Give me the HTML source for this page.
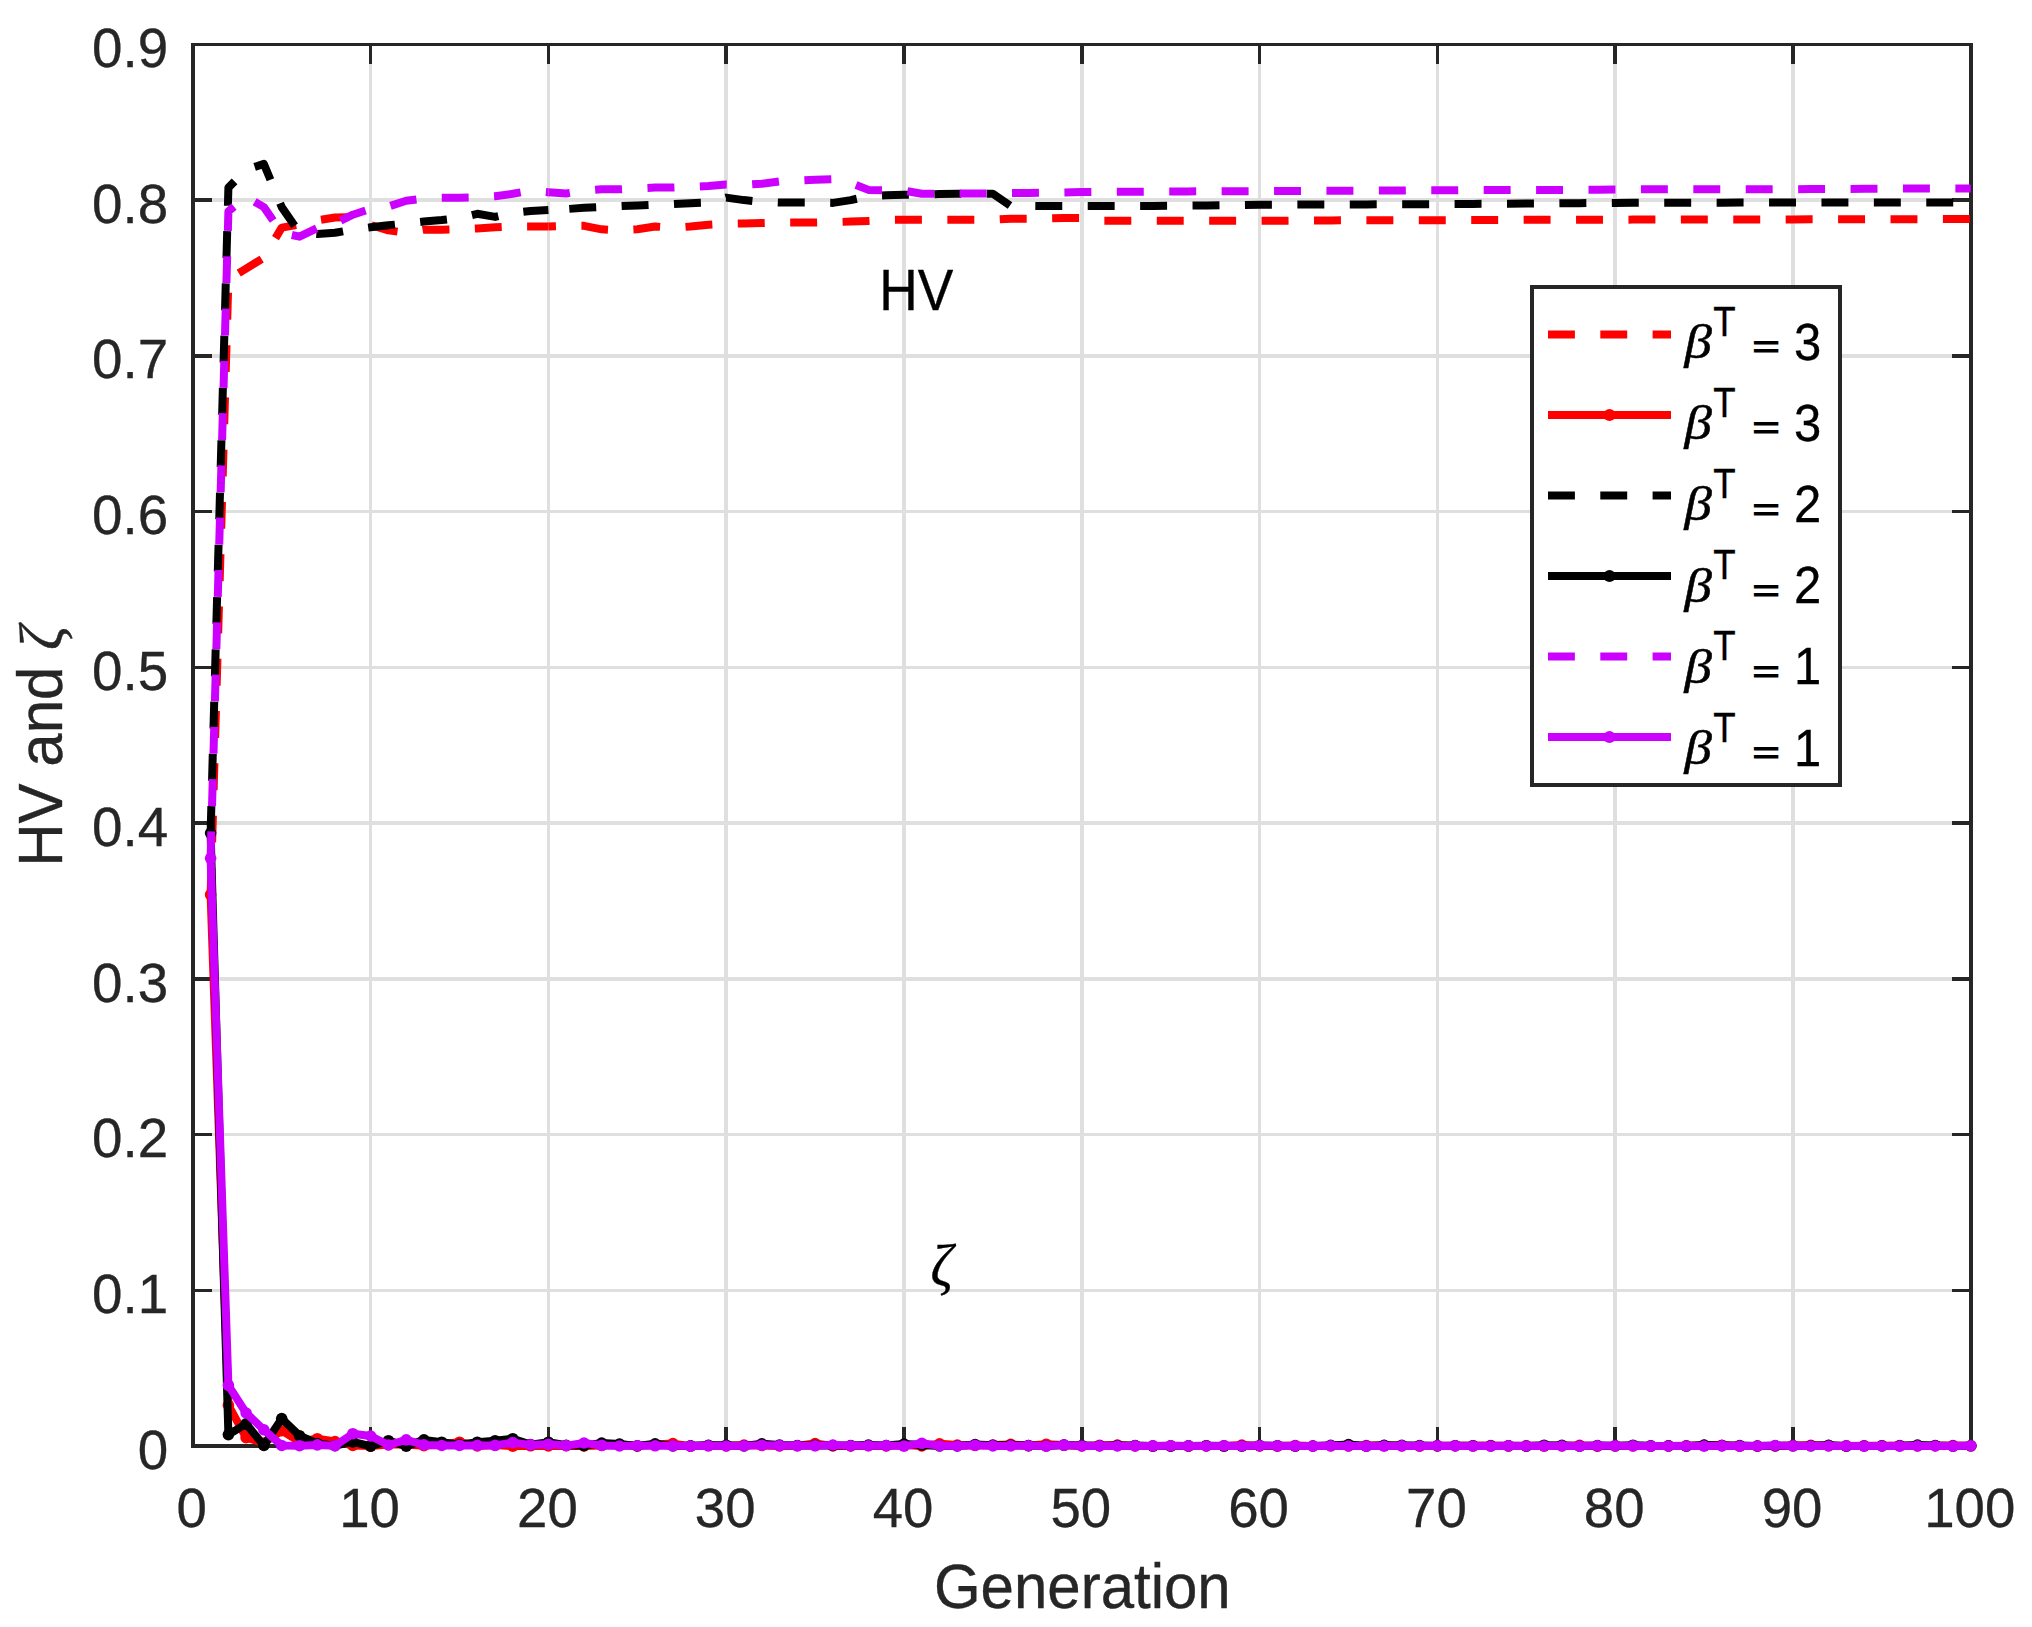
<!DOCTYPE html>
<html lang="en"><head><meta charset="utf-8"><title>HV and zeta vs Generation</title>
<style>html,body{margin:0;padding:0;background:#fff}body{width:2032px;height:1627px;overflow:hidden}svg{display:block}text{font-family:"Liberation Sans",sans-serif}.t{font-size:54.8px;fill:#262626;stroke:#262626;stroke-width:.3px}.l{font-size:60px;fill:#262626;stroke:#262626;stroke-width:.35px}.g{font-size:49px;fill:#000;stroke:#000;stroke-width:.3px}.s{font-size:39px;fill:#000;stroke:#000;stroke-width:.3px}.b{font-family:"Liberation Serif",serif;font-style:italic}</style></head><body>
<svg width="2032" height="1627" viewBox="0 0 2032 1627">
<rect width="2032" height="1627" fill="#fff"/>
<g shape-rendering="crispEdges">
<rect x="369" y="46" width="3" height="1398" fill="#dfdfdf"/>
<rect x="547" y="46" width="3" height="1398" fill="#dfdfdf"/>
<rect x="724" y="46" width="4" height="1398" fill="#dfdfdf"/>
<rect x="902" y="46" width="4" height="1398" fill="#dfdfdf"/>
<rect x="1080" y="46" width="4" height="1398" fill="#dfdfdf"/>
<rect x="1258" y="46" width="3" height="1398" fill="#dfdfdf"/>
<rect x="1436" y="46" width="3" height="1398" fill="#dfdfdf"/>
<rect x="1613" y="46" width="4" height="1398" fill="#dfdfdf"/>
<rect x="1791" y="46" width="4" height="1398" fill="#dfdfdf"/>
<rect x="195" y="1289" width="1774" height="3" fill="#dfdfdf"/>
<rect x="195" y="1133" width="1774" height="3" fill="#dfdfdf"/>
<rect x="195" y="977" width="1774" height="4" fill="#dfdfdf"/>
<rect x="195" y="821" width="1774" height="4" fill="#dfdfdf"/>
<rect x="195" y="666" width="1774" height="3" fill="#dfdfdf"/>
<rect x="195" y="510" width="1774" height="3" fill="#dfdfdf"/>
<rect x="195" y="354" width="1774" height="4" fill="#dfdfdf"/>
<rect x="195" y="198" width="1774" height="4" fill="#dfdfdf"/>
<rect x="191" y="43" width="4" height="1405" fill="#262626"/>
<rect x="1969" y="43" width="4" height="1405" fill="#262626"/>
<rect x="191" y="43" width="1782" height="3" fill="#262626"/>
<rect x="191" y="1444" width="1782" height="4" fill="#262626"/>
<rect x="369" y="46" width="3" height="18" fill="#262626"/>
<rect x="369" y="1427" width="3" height="17" fill="#262626"/>
<rect x="547" y="46" width="3" height="18" fill="#262626"/>
<rect x="547" y="1427" width="3" height="17" fill="#262626"/>
<rect x="724" y="46" width="4" height="18" fill="#262626"/>
<rect x="724" y="1427" width="4" height="17" fill="#262626"/>
<rect x="902" y="46" width="4" height="18" fill="#262626"/>
<rect x="902" y="1427" width="4" height="17" fill="#262626"/>
<rect x="1080" y="46" width="4" height="18" fill="#262626"/>
<rect x="1080" y="1427" width="4" height="17" fill="#262626"/>
<rect x="1258" y="46" width="3" height="18" fill="#262626"/>
<rect x="1258" y="1427" width="3" height="17" fill="#262626"/>
<rect x="1436" y="46" width="3" height="18" fill="#262626"/>
<rect x="1436" y="1427" width="3" height="17" fill="#262626"/>
<rect x="1613" y="46" width="4" height="18" fill="#262626"/>
<rect x="1613" y="1427" width="4" height="17" fill="#262626"/>
<rect x="1791" y="46" width="4" height="18" fill="#262626"/>
<rect x="1791" y="1427" width="4" height="17" fill="#262626"/>
<rect x="195" y="1289" width="17" height="3" fill="#262626"/>
<rect x="1952" y="1289" width="17" height="3" fill="#262626"/>
<rect x="195" y="1133" width="17" height="3" fill="#262626"/>
<rect x="1952" y="1133" width="17" height="3" fill="#262626"/>
<rect x="195" y="977" width="17" height="4" fill="#262626"/>
<rect x="1952" y="977" width="17" height="4" fill="#262626"/>
<rect x="195" y="821" width="17" height="4" fill="#262626"/>
<rect x="1952" y="821" width="17" height="4" fill="#262626"/>
<rect x="195" y="666" width="17" height="3" fill="#262626"/>
<rect x="1952" y="666" width="17" height="3" fill="#262626"/>
<rect x="195" y="510" width="17" height="3" fill="#262626"/>
<rect x="1952" y="510" width="17" height="3" fill="#262626"/>
<rect x="195" y="354" width="17" height="4" fill="#262626"/>
<rect x="1952" y="354" width="17" height="4" fill="#262626"/>
<rect x="195" y="198" width="17" height="4" fill="#262626"/>
<rect x="1952" y="198" width="17" height="4" fill="#262626"/>
</g>
<text class="t" style="font-size:54.6px" x="191.8" y="1526.7" text-anchor="middle">0</text>
<text class="t" style="font-size:54.6px" x="369.6" y="1526.7" text-anchor="middle">10</text>
<text class="t" style="font-size:54.6px" x="547.4" y="1526.7" text-anchor="middle">20</text>
<text class="t" style="font-size:54.6px" x="725.2" y="1526.7" text-anchor="middle">30</text>
<text class="t" style="font-size:54.6px" x="903.0" y="1526.7" text-anchor="middle">40</text>
<text class="t" style="font-size:54.6px" x="1080.8" y="1526.7" text-anchor="middle">50</text>
<text class="t" style="font-size:54.6px" x="1258.6" y="1526.7" text-anchor="middle">60</text>
<text class="t" style="font-size:54.6px" x="1436.4" y="1526.7" text-anchor="middle">70</text>
<text class="t" style="font-size:54.6px" x="1614.2" y="1526.7" text-anchor="middle">80</text>
<text class="t" style="font-size:54.6px" x="1792.0" y="1526.7" text-anchor="middle">90</text>
<text class="t" style="font-size:54.6px" x="1969.8" y="1526.7" text-anchor="middle">100</text>
<text class="t" x="168.3" y="1468.7" text-anchor="end">0</text>
<text class="t" x="168.3" y="1313.0" text-anchor="end">0.1</text>
<text class="t" x="168.3" y="1157.2" text-anchor="end">0.2</text>
<text class="t" x="168.3" y="1001.5" text-anchor="end">0.3</text>
<text class="t" x="168.3" y="845.7" text-anchor="end">0.4</text>
<text class="t" x="168.3" y="689.9" text-anchor="end">0.5</text>
<text class="t" x="168.3" y="534.2" text-anchor="end">0.6</text>
<text class="t" x="168.3" y="378.4" text-anchor="end">0.7</text>
<text class="t" x="168.3" y="222.7" text-anchor="end">0.8</text>
<text class="t" x="168.3" y="66.9" text-anchor="end">0.9</text>
<text class="l" transform="translate(1082.3,1608) scale(1,1.035)" text-anchor="middle">Generation</text>
<text class="l" transform="translate(62,746.2) rotate(-90) scale(1,1.035)" text-anchor="middle">HV and <tspan class="b">ζ</tspan></text>
<path d="M210.6 894.7 L228.4 279.5 L246.1 268.6 L263.9 257.7 L281.7 227.6 L299.5 224.5 L317.3 220.3 L335.0 217.5 L352.8 217.2 L370.6 225.0 L388.4 230.4 L406.2 232.8 L423.9 229.7 L441.7 229.7 L459.5 229.2 L477.3 228.4 L495.1 227.3 L512.8 226.5 L530.6 226.5 L548.4 226.5" fill="none" stroke="#ff0000" stroke-width="8" stroke-dasharray="26.9 25.4" stroke-linejoin="round"/>
<path d="M548.4 226.5 L566.2 225.8 L584.0 225.8 L601.7 229.3 L619.5 230.4 L637.3 229.3 L655.1 226.5 L672.9 227.8 L690.6 226.5 L708.4 224.7 L726.2 223.7 L744.0 223.4 L761.8 223.1 L779.5 222.6 L797.3 222.6 L815.1 222.6 L832.9 222.2 L850.7 221.6 L868.4 220.9 L886.2 220.0 L904.0 219.7 L921.8 219.7 L939.6 219.7 L957.3 219.7 L975.1 219.7 L992.9 219.7 L1010.7 218.8 L1028.5 218.8 L1046.2 218.3 L1064.0 218.0 L1081.8 218.1 L1099.6 220.8 L1117.4 220.8 L1135.1 220.8 L1152.9 220.8 L1170.7 220.8 L1188.5 220.8 L1206.3 220.8 L1224.0 220.8 L1241.8 220.8 L1259.6 220.8 L1277.4 220.7 L1295.2 220.6 L1312.9 220.5 L1330.7 220.4 L1348.5 220.3 L1366.3 220.3 L1384.1 220.3 L1401.8 220.3 L1419.6 220.3 L1437.4 220.3 L1455.2 220.2 L1473.0 220.1 L1490.7 220.0 L1508.5 219.9 L1526.3 219.8 L1544.1 219.8 L1561.9 219.8 L1579.6 219.7 L1597.4 219.7 L1615.2 219.7 L1633.0 219.6 L1650.8 219.6 L1668.5 219.5 L1686.3 219.4 L1704.1 219.4 L1721.9 219.4 L1739.7 219.4 L1757.4 219.4 L1775.2 219.4 L1793.0 219.4 L1810.8 219.3 L1828.6 219.3 L1846.3 219.3 L1864.1 219.2 L1881.9 219.2 L1899.7 219.2 L1917.5 219.2 L1935.2 219.1 L1953.0 219.1 L1970.8 219.1" fill="none" stroke="#ff0000" stroke-width="8" stroke-dasharray="26.95 25.46" stroke-dashoffset="19.4" stroke-linejoin="round"/>
<path d="M210.6 894.7 L228.4 1405.2 L246.1 1437.6 L263.9 1443.0 L281.7 1430.7 L299.5 1441.5 L317.3 1438.7 L335.0 1441.5 L352.8 1445.4 L370.6 1446.1 L388.4 1444.6 L406.2 1444.4 L423.9 1445.7 L441.7 1444.3 L459.5 1442.2 L477.3 1445.9 L495.1 1445.1 L512.8 1446.1 L530.6 1445.8 L548.4 1445.9 L566.2 1445.7 L584.0 1446.0 L601.7 1445.5 L619.5 1444.6 L637.3 1446.0 L655.1 1444.5 L672.9 1443.6 L690.6 1446.1 L708.4 1445.6 L726.2 1445.9 L744.0 1445.1 L761.8 1445.5 L779.5 1445.9 L797.3 1445.7 L815.1 1443.5 L832.9 1445.9 L850.7 1445.9 L868.4 1445.7 L886.2 1446.0 L904.0 1444.9 L921.8 1446.0 L939.6 1443.8 L957.3 1445.1 L975.1 1445.5 L992.9 1445.1 L1010.7 1444.4 L1028.5 1445.6 L1046.2 1444.2 L1064.0 1445.1 L1081.8 1446.0 L1099.6 1445.4 L1117.4 1445.1 L1135.1 1445.9 L1152.9 1446.0 L1170.7 1445.8 L1188.5 1446.1 L1206.3 1445.9 L1224.0 1445.9 L1241.8 1445.0 L1259.6 1445.9 L1277.4 1446.1 L1295.2 1445.6 L1312.9 1446.0 L1330.7 1445.8 L1348.5 1446.0 L1366.3 1445.5 L1384.1 1445.5 L1401.8 1445.8 L1419.6 1446.1 L1437.4 1445.7 L1455.2 1445.7 L1473.0 1445.8 L1490.7 1445.5 L1508.5 1445.9 L1526.3 1445.8 L1544.1 1446.1 L1561.9 1445.8 L1579.6 1445.4 L1597.4 1446.1 L1615.2 1445.9 L1633.0 1446.0 L1650.8 1446.1 L1668.5 1445.9 L1686.3 1445.8 L1704.1 1445.4 L1721.9 1445.2 L1739.7 1446.1 L1757.4 1446.1 L1775.2 1446.0 L1793.0 1445.6 L1810.8 1445.3 L1828.6 1445.6 L1846.3 1445.9 L1864.1 1445.7 L1881.9 1445.7 L1899.7 1445.5 L1917.5 1446.0 L1935.2 1445.7 L1953.0 1445.5 L1970.8 1445.8" fill="none" stroke="#ff0000" stroke-width="8" stroke-linejoin="round"/>
<g fill="#ff0000"><circle cx="210.6" cy="894.7" r="5.8"/><circle cx="228.4" cy="1405.2" r="5.8"/><circle cx="246.1" cy="1437.6" r="5.8"/><circle cx="263.9" cy="1443.0" r="5.8"/><circle cx="281.7" cy="1430.7" r="5.8"/><circle cx="299.5" cy="1441.5" r="5.8"/><circle cx="317.3" cy="1438.7" r="5.8"/><circle cx="335.0" cy="1441.5" r="5.8"/><circle cx="352.8" cy="1445.4" r="5.8"/><circle cx="370.6" cy="1446.1" r="5.8"/><circle cx="388.4" cy="1444.6" r="5.8"/><circle cx="406.2" cy="1444.4" r="5.8"/><circle cx="423.9" cy="1445.7" r="5.8"/><circle cx="441.7" cy="1444.3" r="5.8"/><circle cx="459.5" cy="1442.2" r="5.8"/><circle cx="477.3" cy="1445.9" r="5.8"/><circle cx="495.1" cy="1445.1" r="5.8"/><circle cx="512.8" cy="1446.1" r="5.8"/><circle cx="530.6" cy="1445.8" r="5.8"/><circle cx="548.4" cy="1445.9" r="5.8"/><circle cx="566.2" cy="1445.7" r="5.8"/><circle cx="584.0" cy="1446.0" r="5.8"/><circle cx="601.7" cy="1445.5" r="5.8"/><circle cx="619.5" cy="1444.6" r="5.8"/><circle cx="637.3" cy="1446.0" r="5.8"/><circle cx="655.1" cy="1444.5" r="5.8"/><circle cx="672.9" cy="1443.6" r="5.8"/><circle cx="690.6" cy="1446.1" r="5.8"/><circle cx="708.4" cy="1445.6" r="5.8"/><circle cx="726.2" cy="1445.9" r="5.8"/><circle cx="744.0" cy="1445.1" r="5.8"/><circle cx="761.8" cy="1445.5" r="5.8"/><circle cx="779.5" cy="1445.9" r="5.8"/><circle cx="797.3" cy="1445.7" r="5.8"/><circle cx="815.1" cy="1443.5" r="5.8"/><circle cx="832.9" cy="1445.9" r="5.8"/><circle cx="850.7" cy="1445.9" r="5.8"/><circle cx="868.4" cy="1445.7" r="5.8"/><circle cx="886.2" cy="1446.0" r="5.8"/><circle cx="904.0" cy="1444.9" r="5.8"/><circle cx="921.8" cy="1446.0" r="5.8"/><circle cx="939.6" cy="1443.8" r="5.8"/><circle cx="957.3" cy="1445.1" r="5.8"/><circle cx="975.1" cy="1445.5" r="5.8"/><circle cx="992.9" cy="1445.1" r="5.8"/><circle cx="1010.7" cy="1444.4" r="5.8"/><circle cx="1028.5" cy="1445.6" r="5.8"/><circle cx="1046.2" cy="1444.2" r="5.8"/><circle cx="1064.0" cy="1445.1" r="5.8"/><circle cx="1081.8" cy="1446.0" r="5.8"/><circle cx="1099.6" cy="1445.4" r="5.8"/><circle cx="1117.4" cy="1445.1" r="5.8"/><circle cx="1135.1" cy="1445.9" r="5.8"/><circle cx="1152.9" cy="1446.0" r="5.8"/><circle cx="1170.7" cy="1445.8" r="5.8"/><circle cx="1188.5" cy="1446.1" r="5.8"/><circle cx="1206.3" cy="1445.9" r="5.8"/><circle cx="1224.0" cy="1445.9" r="5.8"/><circle cx="1241.8" cy="1445.0" r="5.8"/><circle cx="1259.6" cy="1445.9" r="5.8"/><circle cx="1277.4" cy="1446.1" r="5.8"/><circle cx="1295.2" cy="1445.6" r="5.8"/><circle cx="1312.9" cy="1446.0" r="5.8"/><circle cx="1330.7" cy="1445.8" r="5.8"/><circle cx="1348.5" cy="1446.0" r="5.8"/><circle cx="1366.3" cy="1445.5" r="5.8"/><circle cx="1384.1" cy="1445.5" r="5.8"/><circle cx="1401.8" cy="1445.8" r="5.8"/><circle cx="1419.6" cy="1446.1" r="5.8"/><circle cx="1437.4" cy="1445.7" r="5.8"/><circle cx="1455.2" cy="1445.7" r="5.8"/><circle cx="1473.0" cy="1445.8" r="5.8"/><circle cx="1490.7" cy="1445.5" r="5.8"/><circle cx="1508.5" cy="1445.9" r="5.8"/><circle cx="1526.3" cy="1445.8" r="5.8"/><circle cx="1544.1" cy="1446.1" r="5.8"/><circle cx="1561.9" cy="1445.8" r="5.8"/><circle cx="1579.6" cy="1445.4" r="5.8"/><circle cx="1597.4" cy="1446.1" r="5.8"/><circle cx="1615.2" cy="1445.9" r="5.8"/><circle cx="1633.0" cy="1446.0" r="5.8"/><circle cx="1650.8" cy="1446.1" r="5.8"/><circle cx="1668.5" cy="1445.9" r="5.8"/><circle cx="1686.3" cy="1445.8" r="5.8"/><circle cx="1704.1" cy="1445.4" r="5.8"/><circle cx="1721.9" cy="1445.2" r="5.8"/><circle cx="1739.7" cy="1446.1" r="5.8"/><circle cx="1757.4" cy="1446.1" r="5.8"/><circle cx="1775.2" cy="1446.0" r="5.8"/><circle cx="1793.0" cy="1445.6" r="5.8"/><circle cx="1810.8" cy="1445.3" r="5.8"/><circle cx="1828.6" cy="1445.6" r="5.8"/><circle cx="1846.3" cy="1445.9" r="5.8"/><circle cx="1864.1" cy="1445.7" r="5.8"/><circle cx="1881.9" cy="1445.7" r="5.8"/><circle cx="1899.7" cy="1445.5" r="5.8"/><circle cx="1917.5" cy="1446.0" r="5.8"/><circle cx="1935.2" cy="1445.7" r="5.8"/><circle cx="1953.0" cy="1445.5" r="5.8"/><circle cx="1970.8" cy="1445.8" r="5.8"/></g>
<path d="M210.6 833.1 L228.4 187.6 L246.1 169.7 L263.9 163.9 L281.7 207.1 L299.5 232.8 L317.3 234.0 L335.0 232.8 L352.8 229.7 L370.6 227.3 L388.4 225.3 L406.2 223.4 L423.9 221.6 L441.7 220.0 L459.5 218.0 L477.3 213.8 L495.1 216.9 L512.8 213.0 L530.6 211.0 L548.4 210.0" fill="none" stroke="#000000" stroke-width="8" stroke-dasharray="26.9 25.4" stroke-linejoin="round"/>
<path d="M548.4 210.0 L566.2 209.1 L584.0 207.8 L601.7 206.9 L619.5 206.1 L637.3 205.4 L655.1 204.6 L672.9 204.1 L690.6 203.2 L708.4 202.6 L726.2 197.6 L744.0 200.1 L761.8 201.9 L779.5 202.6 L797.3 202.6 L815.1 202.6 L832.9 202.9 L850.7 200.1 L868.4 196.2 L886.2 195.2 L904.0 194.8 L921.8 194.8 L939.6 194.1 L957.3 193.7 L975.1 193.7 L992.9 193.7 L1010.7 206.0 L1028.5 206.0 L1046.2 206.1 L1064.0 206.1 L1081.8 206.1 L1099.6 206.1 L1117.4 206.0 L1135.1 205.9 L1152.9 205.9 L1170.7 205.8 L1188.5 205.6 L1206.3 205.4 L1224.0 205.2 L1241.8 205.0 L1259.6 204.7 L1277.4 204.7 L1295.2 204.6 L1312.9 204.5 L1330.7 204.5 L1348.5 204.4 L1366.3 204.4 L1384.1 204.3 L1401.8 204.2 L1419.6 204.2 L1437.4 204.1 L1455.2 204.0 L1473.0 203.9 L1490.7 203.8 L1508.5 203.7 L1526.3 203.6 L1544.1 203.5 L1561.9 203.3 L1579.6 203.2 L1597.4 203.0 L1615.2 202.9 L1633.0 202.8 L1650.8 202.8 L1668.5 202.8 L1686.3 202.7 L1704.1 202.7 L1721.9 202.7 L1739.7 202.6 L1757.4 202.6 L1775.2 202.6 L1793.0 202.6 L1810.8 202.5 L1828.6 202.5 L1846.3 202.5 L1864.1 202.5 L1881.9 202.5 L1899.7 202.5 L1917.5 202.4 L1935.2 202.4 L1953.0 202.4 L1970.8 202.4" fill="none" stroke="#000000" stroke-width="8" stroke-dasharray="26.95 25.46" stroke-dashoffset="31.5" stroke-linejoin="round"/>
<path d="M210.6 833.1 L228.4 1434.6 L246.1 1423.9 L263.9 1445.5 L281.7 1418.6 L299.5 1435.7 L317.3 1443.5 L335.0 1445.7 L352.8 1441.9 L370.6 1446.1 L388.4 1440.7 L406.2 1446.1 L423.9 1439.9 L441.7 1442.2 L459.5 1444.6 L477.3 1442.2 L495.1 1440.7 L512.8 1438.7 L530.6 1444.6 L548.4 1442.2 L566.2 1445.3 L584.0 1445.6 L601.7 1443.0 L619.5 1444.0 L637.3 1445.9 L655.1 1443.8 L672.9 1446.0 L690.6 1445.8 L708.4 1445.3 L726.2 1445.2 L744.0 1445.9 L761.8 1443.8 L779.5 1445.1 L797.3 1445.5 L815.1 1445.4 L832.9 1445.5 L850.7 1445.6 L868.4 1445.1 L886.2 1445.5 L904.0 1444.1 L921.8 1445.0 L939.6 1446.0 L957.3 1446.0 L975.1 1444.6 L992.9 1445.2 L1010.7 1445.2 L1028.5 1445.6 L1046.2 1446.0 L1064.0 1445.1 L1081.8 1445.5 L1099.6 1445.7 L1117.4 1445.5 L1135.1 1445.5 L1152.9 1446.1 L1170.7 1446.1 L1188.5 1445.9 L1206.3 1445.7 L1224.0 1446.1 L1241.8 1446.1 L1259.6 1445.6 L1277.4 1445.7 L1295.2 1446.1 L1312.9 1446.0 L1330.7 1445.4 L1348.5 1444.6 L1366.3 1446.1 L1384.1 1445.3 L1401.8 1445.4 L1419.6 1445.5 L1437.4 1445.9 L1455.2 1445.7 L1473.0 1445.8 L1490.7 1445.9 L1508.5 1445.8 L1526.3 1446.1 L1544.1 1445.2 L1561.9 1445.4 L1579.6 1446.1 L1597.4 1445.6 L1615.2 1445.8 L1633.0 1445.2 L1650.8 1445.8 L1668.5 1445.9 L1686.3 1446.1 L1704.1 1445.0 L1721.9 1445.6 L1739.7 1445.6 L1757.4 1446.0 L1775.2 1445.8 L1793.0 1445.8 L1810.8 1445.8 L1828.6 1445.3 L1846.3 1446.1 L1864.1 1446.0 L1881.9 1445.9 L1899.7 1445.7 L1917.5 1445.0 L1935.2 1445.5 L1953.0 1446.1 L1970.8 1445.8" fill="none" stroke="#000000" stroke-width="8" stroke-linejoin="round"/>
<g fill="#000000"><circle cx="210.6" cy="833.1" r="5.8"/><circle cx="228.4" cy="1434.6" r="5.8"/><circle cx="246.1" cy="1423.9" r="5.8"/><circle cx="263.9" cy="1445.5" r="5.8"/><circle cx="281.7" cy="1418.6" r="5.8"/><circle cx="299.5" cy="1435.7" r="5.8"/><circle cx="317.3" cy="1443.5" r="5.8"/><circle cx="335.0" cy="1445.7" r="5.8"/><circle cx="352.8" cy="1441.9" r="5.8"/><circle cx="370.6" cy="1446.1" r="5.8"/><circle cx="388.4" cy="1440.7" r="5.8"/><circle cx="406.2" cy="1446.1" r="5.8"/><circle cx="423.9" cy="1439.9" r="5.8"/><circle cx="441.7" cy="1442.2" r="5.8"/><circle cx="459.5" cy="1444.6" r="5.8"/><circle cx="477.3" cy="1442.2" r="5.8"/><circle cx="495.1" cy="1440.7" r="5.8"/><circle cx="512.8" cy="1438.7" r="5.8"/><circle cx="530.6" cy="1444.6" r="5.8"/><circle cx="548.4" cy="1442.2" r="5.8"/><circle cx="566.2" cy="1445.3" r="5.8"/><circle cx="584.0" cy="1445.6" r="5.8"/><circle cx="601.7" cy="1443.0" r="5.8"/><circle cx="619.5" cy="1444.0" r="5.8"/><circle cx="637.3" cy="1445.9" r="5.8"/><circle cx="655.1" cy="1443.8" r="5.8"/><circle cx="672.9" cy="1446.0" r="5.8"/><circle cx="690.6" cy="1445.8" r="5.8"/><circle cx="708.4" cy="1445.3" r="5.8"/><circle cx="726.2" cy="1445.2" r="5.8"/><circle cx="744.0" cy="1445.9" r="5.8"/><circle cx="761.8" cy="1443.8" r="5.8"/><circle cx="779.5" cy="1445.1" r="5.8"/><circle cx="797.3" cy="1445.5" r="5.8"/><circle cx="815.1" cy="1445.4" r="5.8"/><circle cx="832.9" cy="1445.5" r="5.8"/><circle cx="850.7" cy="1445.6" r="5.8"/><circle cx="868.4" cy="1445.1" r="5.8"/><circle cx="886.2" cy="1445.5" r="5.8"/><circle cx="904.0" cy="1444.1" r="5.8"/><circle cx="921.8" cy="1445.0" r="5.8"/><circle cx="939.6" cy="1446.0" r="5.8"/><circle cx="957.3" cy="1446.0" r="5.8"/><circle cx="975.1" cy="1444.6" r="5.8"/><circle cx="992.9" cy="1445.2" r="5.8"/><circle cx="1010.7" cy="1445.2" r="5.8"/><circle cx="1028.5" cy="1445.6" r="5.8"/><circle cx="1046.2" cy="1446.0" r="5.8"/><circle cx="1064.0" cy="1445.1" r="5.8"/><circle cx="1081.8" cy="1445.5" r="5.8"/><circle cx="1099.6" cy="1445.7" r="5.8"/><circle cx="1117.4" cy="1445.5" r="5.8"/><circle cx="1135.1" cy="1445.5" r="5.8"/><circle cx="1152.9" cy="1446.1" r="5.8"/><circle cx="1170.7" cy="1446.1" r="5.8"/><circle cx="1188.5" cy="1445.9" r="5.8"/><circle cx="1206.3" cy="1445.7" r="5.8"/><circle cx="1224.0" cy="1446.1" r="5.8"/><circle cx="1241.8" cy="1446.1" r="5.8"/><circle cx="1259.6" cy="1445.6" r="5.8"/><circle cx="1277.4" cy="1445.7" r="5.8"/><circle cx="1295.2" cy="1446.1" r="5.8"/><circle cx="1312.9" cy="1446.0" r="5.8"/><circle cx="1330.7" cy="1445.4" r="5.8"/><circle cx="1348.5" cy="1444.6" r="5.8"/><circle cx="1366.3" cy="1446.1" r="5.8"/><circle cx="1384.1" cy="1445.3" r="5.8"/><circle cx="1401.8" cy="1445.4" r="5.8"/><circle cx="1419.6" cy="1445.5" r="5.8"/><circle cx="1437.4" cy="1445.9" r="5.8"/><circle cx="1455.2" cy="1445.7" r="5.8"/><circle cx="1473.0" cy="1445.8" r="5.8"/><circle cx="1490.7" cy="1445.9" r="5.8"/><circle cx="1508.5" cy="1445.8" r="5.8"/><circle cx="1526.3" cy="1446.1" r="5.8"/><circle cx="1544.1" cy="1445.2" r="5.8"/><circle cx="1561.9" cy="1445.4" r="5.8"/><circle cx="1579.6" cy="1446.1" r="5.8"/><circle cx="1597.4" cy="1445.6" r="5.8"/><circle cx="1615.2" cy="1445.8" r="5.8"/><circle cx="1633.0" cy="1445.2" r="5.8"/><circle cx="1650.8" cy="1445.8" r="5.8"/><circle cx="1668.5" cy="1445.9" r="5.8"/><circle cx="1686.3" cy="1446.1" r="5.8"/><circle cx="1704.1" cy="1445.0" r="5.8"/><circle cx="1721.9" cy="1445.6" r="5.8"/><circle cx="1739.7" cy="1445.6" r="5.8"/><circle cx="1757.4" cy="1446.0" r="5.8"/><circle cx="1775.2" cy="1445.8" r="5.8"/><circle cx="1793.0" cy="1445.8" r="5.8"/><circle cx="1810.8" cy="1445.8" r="5.8"/><circle cx="1828.6" cy="1445.3" r="5.8"/><circle cx="1846.3" cy="1446.1" r="5.8"/><circle cx="1864.1" cy="1446.0" r="5.8"/><circle cx="1881.9" cy="1445.9" r="5.8"/><circle cx="1899.7" cy="1445.7" r="5.8"/><circle cx="1917.5" cy="1445.0" r="5.8"/><circle cx="1935.2" cy="1445.5" r="5.8"/><circle cx="1953.0" cy="1446.1" r="5.8"/><circle cx="1970.8" cy="1445.8" r="5.8"/></g>
<path d="M210.6 858.3 L228.4 211.3 L246.1 196.9 L263.9 207.1 L281.7 232.8 L299.5 236.7 L317.3 228.1 L335.0 223.4 L352.8 214.7 L370.6 208.9 L388.4 206.6 L406.2 200.7 L423.9 198.5 L441.7 197.7 L459.5 197.7 L477.3 197.3 L495.1 196.2 L512.8 193.8 L530.6 190.7 L548.4 192.3" fill="none" stroke="#cc00ff" stroke-width="8" stroke-dasharray="26.9 25.4" stroke-linejoin="round"/>
<path d="M548.4 192.3 L566.2 193.5 L584.0 190.7 L601.7 189.3 L619.5 189.3 L637.3 188.4 L655.1 187.6 L672.9 187.6 L690.6 186.8 L708.4 186.0 L726.2 184.5 L744.0 184.8 L761.8 183.7 L779.5 181.4 L797.3 180.6 L815.1 179.8 L832.9 179.2 L850.7 182.9 L868.4 189.9 L886.2 190.4 L904.0 190.7 L921.8 193.8 L939.6 193.8 L957.3 193.5 L975.1 193.5 L992.9 193.5 L1010.7 193.1 L1028.5 192.9 L1046.2 192.7 L1064.0 192.4 L1081.8 192.1 L1099.6 192.0 L1117.4 191.8 L1135.1 191.7 L1152.9 191.6 L1170.7 191.5 L1188.5 191.4 L1206.3 191.3 L1224.0 191.2 L1241.8 191.2 L1259.6 191.2 L1277.4 191.1 L1295.2 191.0 L1312.9 190.9 L1330.7 190.8 L1348.5 190.7 L1366.3 190.6 L1384.1 190.5 L1401.8 190.4 L1419.6 190.3 L1437.4 190.2 L1455.2 190.2 L1473.0 190.1 L1490.7 190.1 L1508.5 190.0 L1526.3 189.9 L1544.1 189.9 L1561.9 189.9 L1579.6 189.8 L1597.4 189.8 L1615.2 189.5 L1633.0 189.4 L1650.8 189.3 L1668.5 189.3 L1686.3 189.2 L1704.1 189.2 L1721.9 189.2 L1739.7 189.2 L1757.4 189.2 L1775.2 189.2 L1793.0 189.2 L1810.8 189.1 L1828.6 189.0 L1846.3 188.9 L1864.1 188.8 L1881.9 188.7 L1899.7 188.6 L1917.5 188.6 L1935.2 188.5 L1953.0 188.4 L1970.8 188.4" fill="none" stroke="#cc00ff" stroke-width="8" stroke-dasharray="26.95 25.46" stroke-dashoffset="5.4" stroke-linejoin="round"/>
<path d="M210.6 858.3 L228.4 1385.4 L246.1 1413.0 L263.9 1429.8 L281.7 1445.5 L299.5 1445.7 L317.3 1444.9 L335.0 1445.7 L352.8 1433.7 L370.6 1436.0 L388.4 1445.0 L406.2 1439.9 L423.9 1444.9 L441.7 1445.5 L459.5 1445.4 L477.3 1445.4 L495.1 1445.4 L512.8 1442.6 L530.6 1444.9 L548.4 1444.3 L566.2 1445.6 L584.0 1443.0 L601.7 1445.4 L619.5 1446.0 L637.3 1445.7 L655.1 1445.8 L672.9 1445.8 L690.6 1446.1 L708.4 1445.8 L726.2 1446.0 L744.0 1445.8 L761.8 1445.2 L779.5 1445.6 L797.3 1445.8 L815.1 1445.8 L832.9 1445.0 L850.7 1445.7 L868.4 1445.7 L886.2 1445.6 L904.0 1446.1 L921.8 1443.3 L939.6 1445.8 L957.3 1446.0 L975.1 1445.3 L992.9 1445.9 L1010.7 1445.9 L1028.5 1445.7 L1046.2 1446.1 L1064.0 1445.1 L1081.8 1446.0 L1099.6 1445.9 L1117.4 1446.0 L1135.1 1445.9 L1152.9 1445.9 L1170.7 1445.8 L1188.5 1445.9 L1206.3 1446.0 L1224.0 1445.7 L1241.8 1446.0 L1259.6 1445.7 L1277.4 1445.9 L1295.2 1445.9 L1312.9 1446.1 L1330.7 1445.8 L1348.5 1446.0 L1366.3 1446.1 L1384.1 1446.1 L1401.8 1445.9 L1419.6 1446.0 L1437.4 1445.7 L1455.2 1445.9 L1473.0 1446.0 L1490.7 1446.1 L1508.5 1445.8 L1526.3 1446.0 L1544.1 1446.0 L1561.9 1446.0 L1579.6 1446.1 L1597.4 1445.8 L1615.2 1445.8 L1633.0 1445.9 L1650.8 1446.1 L1668.5 1446.0 L1686.3 1446.0 L1704.1 1446.1 L1721.9 1445.9 L1739.7 1446.1 L1757.4 1446.0 L1775.2 1445.5 L1793.0 1445.9 L1810.8 1446.0 L1828.6 1446.0 L1846.3 1445.9 L1864.1 1446.1 L1881.9 1446.0 L1899.7 1446.1 L1917.5 1446.0 L1935.2 1446.0 L1953.0 1446.1 L1970.8 1445.7" fill="none" stroke="#cc00ff" stroke-width="8" stroke-linejoin="round"/>
<g fill="#cc00ff"><circle cx="210.6" cy="858.3" r="5.8"/><circle cx="228.4" cy="1385.4" r="5.8"/><circle cx="246.1" cy="1413.0" r="5.8"/><circle cx="263.9" cy="1429.8" r="5.8"/><circle cx="281.7" cy="1445.5" r="5.8"/><circle cx="299.5" cy="1445.7" r="5.8"/><circle cx="317.3" cy="1444.9" r="5.8"/><circle cx="335.0" cy="1445.7" r="5.8"/><circle cx="352.8" cy="1433.7" r="5.8"/><circle cx="370.6" cy="1436.0" r="5.8"/><circle cx="388.4" cy="1445.0" r="5.8"/><circle cx="406.2" cy="1439.9" r="5.8"/><circle cx="423.9" cy="1444.9" r="5.8"/><circle cx="441.7" cy="1445.5" r="5.8"/><circle cx="459.5" cy="1445.4" r="5.8"/><circle cx="477.3" cy="1445.4" r="5.8"/><circle cx="495.1" cy="1445.4" r="5.8"/><circle cx="512.8" cy="1442.6" r="5.8"/><circle cx="530.6" cy="1444.9" r="5.8"/><circle cx="548.4" cy="1444.3" r="5.8"/><circle cx="566.2" cy="1445.6" r="5.8"/><circle cx="584.0" cy="1443.0" r="5.8"/><circle cx="601.7" cy="1445.4" r="5.8"/><circle cx="619.5" cy="1446.0" r="5.8"/><circle cx="637.3" cy="1445.7" r="5.8"/><circle cx="655.1" cy="1445.8" r="5.8"/><circle cx="672.9" cy="1445.8" r="5.8"/><circle cx="690.6" cy="1446.1" r="5.8"/><circle cx="708.4" cy="1445.8" r="5.8"/><circle cx="726.2" cy="1446.0" r="5.8"/><circle cx="744.0" cy="1445.8" r="5.8"/><circle cx="761.8" cy="1445.2" r="5.8"/><circle cx="779.5" cy="1445.6" r="5.8"/><circle cx="797.3" cy="1445.8" r="5.8"/><circle cx="815.1" cy="1445.8" r="5.8"/><circle cx="832.9" cy="1445.0" r="5.8"/><circle cx="850.7" cy="1445.7" r="5.8"/><circle cx="868.4" cy="1445.7" r="5.8"/><circle cx="886.2" cy="1445.6" r="5.8"/><circle cx="904.0" cy="1446.1" r="5.8"/><circle cx="921.8" cy="1443.3" r="5.8"/><circle cx="939.6" cy="1445.8" r="5.8"/><circle cx="957.3" cy="1446.0" r="5.8"/><circle cx="975.1" cy="1445.3" r="5.8"/><circle cx="992.9" cy="1445.9" r="5.8"/><circle cx="1010.7" cy="1445.9" r="5.8"/><circle cx="1028.5" cy="1445.7" r="5.8"/><circle cx="1046.2" cy="1446.1" r="5.8"/><circle cx="1064.0" cy="1445.1" r="5.8"/><circle cx="1081.8" cy="1446.0" r="5.8"/><circle cx="1099.6" cy="1445.9" r="5.8"/><circle cx="1117.4" cy="1446.0" r="5.8"/><circle cx="1135.1" cy="1445.9" r="5.8"/><circle cx="1152.9" cy="1445.9" r="5.8"/><circle cx="1170.7" cy="1445.8" r="5.8"/><circle cx="1188.5" cy="1445.9" r="5.8"/><circle cx="1206.3" cy="1446.0" r="5.8"/><circle cx="1224.0" cy="1445.7" r="5.8"/><circle cx="1241.8" cy="1446.0" r="5.8"/><circle cx="1259.6" cy="1445.7" r="5.8"/><circle cx="1277.4" cy="1445.9" r="5.8"/><circle cx="1295.2" cy="1445.9" r="5.8"/><circle cx="1312.9" cy="1446.1" r="5.8"/><circle cx="1330.7" cy="1445.8" r="5.8"/><circle cx="1348.5" cy="1446.0" r="5.8"/><circle cx="1366.3" cy="1446.1" r="5.8"/><circle cx="1384.1" cy="1446.1" r="5.8"/><circle cx="1401.8" cy="1445.9" r="5.8"/><circle cx="1419.6" cy="1446.0" r="5.8"/><circle cx="1437.4" cy="1445.7" r="5.8"/><circle cx="1455.2" cy="1445.9" r="5.8"/><circle cx="1473.0" cy="1446.0" r="5.8"/><circle cx="1490.7" cy="1446.1" r="5.8"/><circle cx="1508.5" cy="1445.8" r="5.8"/><circle cx="1526.3" cy="1446.0" r="5.8"/><circle cx="1544.1" cy="1446.0" r="5.8"/><circle cx="1561.9" cy="1446.0" r="5.8"/><circle cx="1579.6" cy="1446.1" r="5.8"/><circle cx="1597.4" cy="1445.8" r="5.8"/><circle cx="1615.2" cy="1445.8" r="5.8"/><circle cx="1633.0" cy="1445.9" r="5.8"/><circle cx="1650.8" cy="1446.1" r="5.8"/><circle cx="1668.5" cy="1446.0" r="5.8"/><circle cx="1686.3" cy="1446.0" r="5.8"/><circle cx="1704.1" cy="1446.1" r="5.8"/><circle cx="1721.9" cy="1445.9" r="5.8"/><circle cx="1739.7" cy="1446.1" r="5.8"/><circle cx="1757.4" cy="1446.0" r="5.8"/><circle cx="1775.2" cy="1445.5" r="5.8"/><circle cx="1793.0" cy="1445.9" r="5.8"/><circle cx="1810.8" cy="1446.0" r="5.8"/><circle cx="1828.6" cy="1446.0" r="5.8"/><circle cx="1846.3" cy="1445.9" r="5.8"/><circle cx="1864.1" cy="1446.1" r="5.8"/><circle cx="1881.9" cy="1446.0" r="5.8"/><circle cx="1899.7" cy="1446.1" r="5.8"/><circle cx="1917.5" cy="1446.0" r="5.8"/><circle cx="1935.2" cy="1446.0" r="5.8"/><circle cx="1953.0" cy="1446.1" r="5.8"/><circle cx="1970.8" cy="1445.7" r="5.8"/></g>
<text transform="translate(879.3,310) scale(0.98,1.05)" style="font-size:54.4px;fill:#000;stroke:#000;stroke-width:.35px">HV</text>
<text class="b" transform="translate(930.5,1285.3) scale(1,1.06)" style="font-size:55.5px;fill:#000;stroke:#000;stroke-width:.35px">ζ</text>
<rect x="1532" y="287" width="308" height="498" fill="#fff" stroke="#262626" stroke-width="4" shape-rendering="crispEdges"/>
<line x1="1548" y1="334.5" x2="1671" y2="334.5" stroke="#ff0000" stroke-width="8" stroke-dasharray="26.9 25.4"/>
<text class="g b" transform="translate(1684.6,358.1) scale(1.12,1)" style="stroke-width:.5px">β</text>
<text class="s" transform="translate(1713.3,335.8) scale(0.94,1.07)">T</text>
<text class="g" transform="translate(1752.4,357.20) scale(0.95,0.624)" style="stroke-width:1.91px">=</text>
<text class="g" transform="translate(1794,359.7) scale(1,1.045)">3</text>
<line x1="1548" y1="415" x2="1671" y2="415" stroke="#ff0000" stroke-width="8"/>
<circle cx="1609.5" cy="415" r="6" fill="#ff0000"/>
<text class="g b" transform="translate(1684.6,439.2) scale(1.12,1)" style="stroke-width:.5px">β</text>
<text class="s" transform="translate(1713.3,416.9) scale(0.94,1.07)">T</text>
<text class="g" transform="translate(1752.4,438.35) scale(0.95,0.624)" style="stroke-width:1.91px">=</text>
<text class="g" transform="translate(1794,440.8) scale(1,1.045)">3</text>
<line x1="1548" y1="495.5" x2="1671" y2="495.5" stroke="#000000" stroke-width="8" stroke-dasharray="26.9 25.4"/>
<text class="g b" transform="translate(1684.6,520.4) scale(1.12,1)" style="stroke-width:.5px">β</text>
<text class="s" transform="translate(1713.3,498.1) scale(0.94,1.07)">T</text>
<text class="g" transform="translate(1752.4,519.50) scale(0.95,0.624)" style="stroke-width:1.91px">=</text>
<text class="g" transform="translate(1794,522.0) scale(1,1.045)">2</text>
<line x1="1548" y1="576" x2="1671" y2="576" stroke="#000000" stroke-width="8"/>
<circle cx="1609.5" cy="576" r="6" fill="#000000"/>
<text class="g b" transform="translate(1684.6,601.6) scale(1.12,1)" style="stroke-width:.5px">β</text>
<text class="s" transform="translate(1713.3,579.2) scale(0.94,1.07)">T</text>
<text class="g" transform="translate(1752.4,600.65) scale(0.95,0.624)" style="stroke-width:1.91px">=</text>
<text class="g" transform="translate(1794,603.2) scale(1,1.045)">2</text>
<line x1="1548" y1="656.5" x2="1671" y2="656.5" stroke="#cc00ff" stroke-width="8" stroke-dasharray="26.9 25.4"/>
<text class="g b" transform="translate(1684.6,682.7) scale(1.12,1)" style="stroke-width:.5px">β</text>
<text class="s" transform="translate(1713.3,660.4) scale(0.94,1.07)">T</text>
<text class="g" transform="translate(1752.4,681.80) scale(0.95,0.624)" style="stroke-width:1.91px">=</text>
<text class="g" transform="translate(1794,684.3) scale(1,1.045)">1</text>
<line x1="1548" y1="737" x2="1671" y2="737" stroke="#cc00ff" stroke-width="8"/>
<circle cx="1609.5" cy="737" r="6" fill="#cc00ff"/>
<text class="g b" transform="translate(1684.6,763.9) scale(1.12,1)" style="stroke-width:.5px">β</text>
<text class="s" transform="translate(1713.3,741.5) scale(0.94,1.07)">T</text>
<text class="g" transform="translate(1752.4,762.95) scale(0.95,0.624)" style="stroke-width:1.91px">=</text>
<text class="g" transform="translate(1794,765.5) scale(1,1.045)">1</text>
</svg></body></html>
